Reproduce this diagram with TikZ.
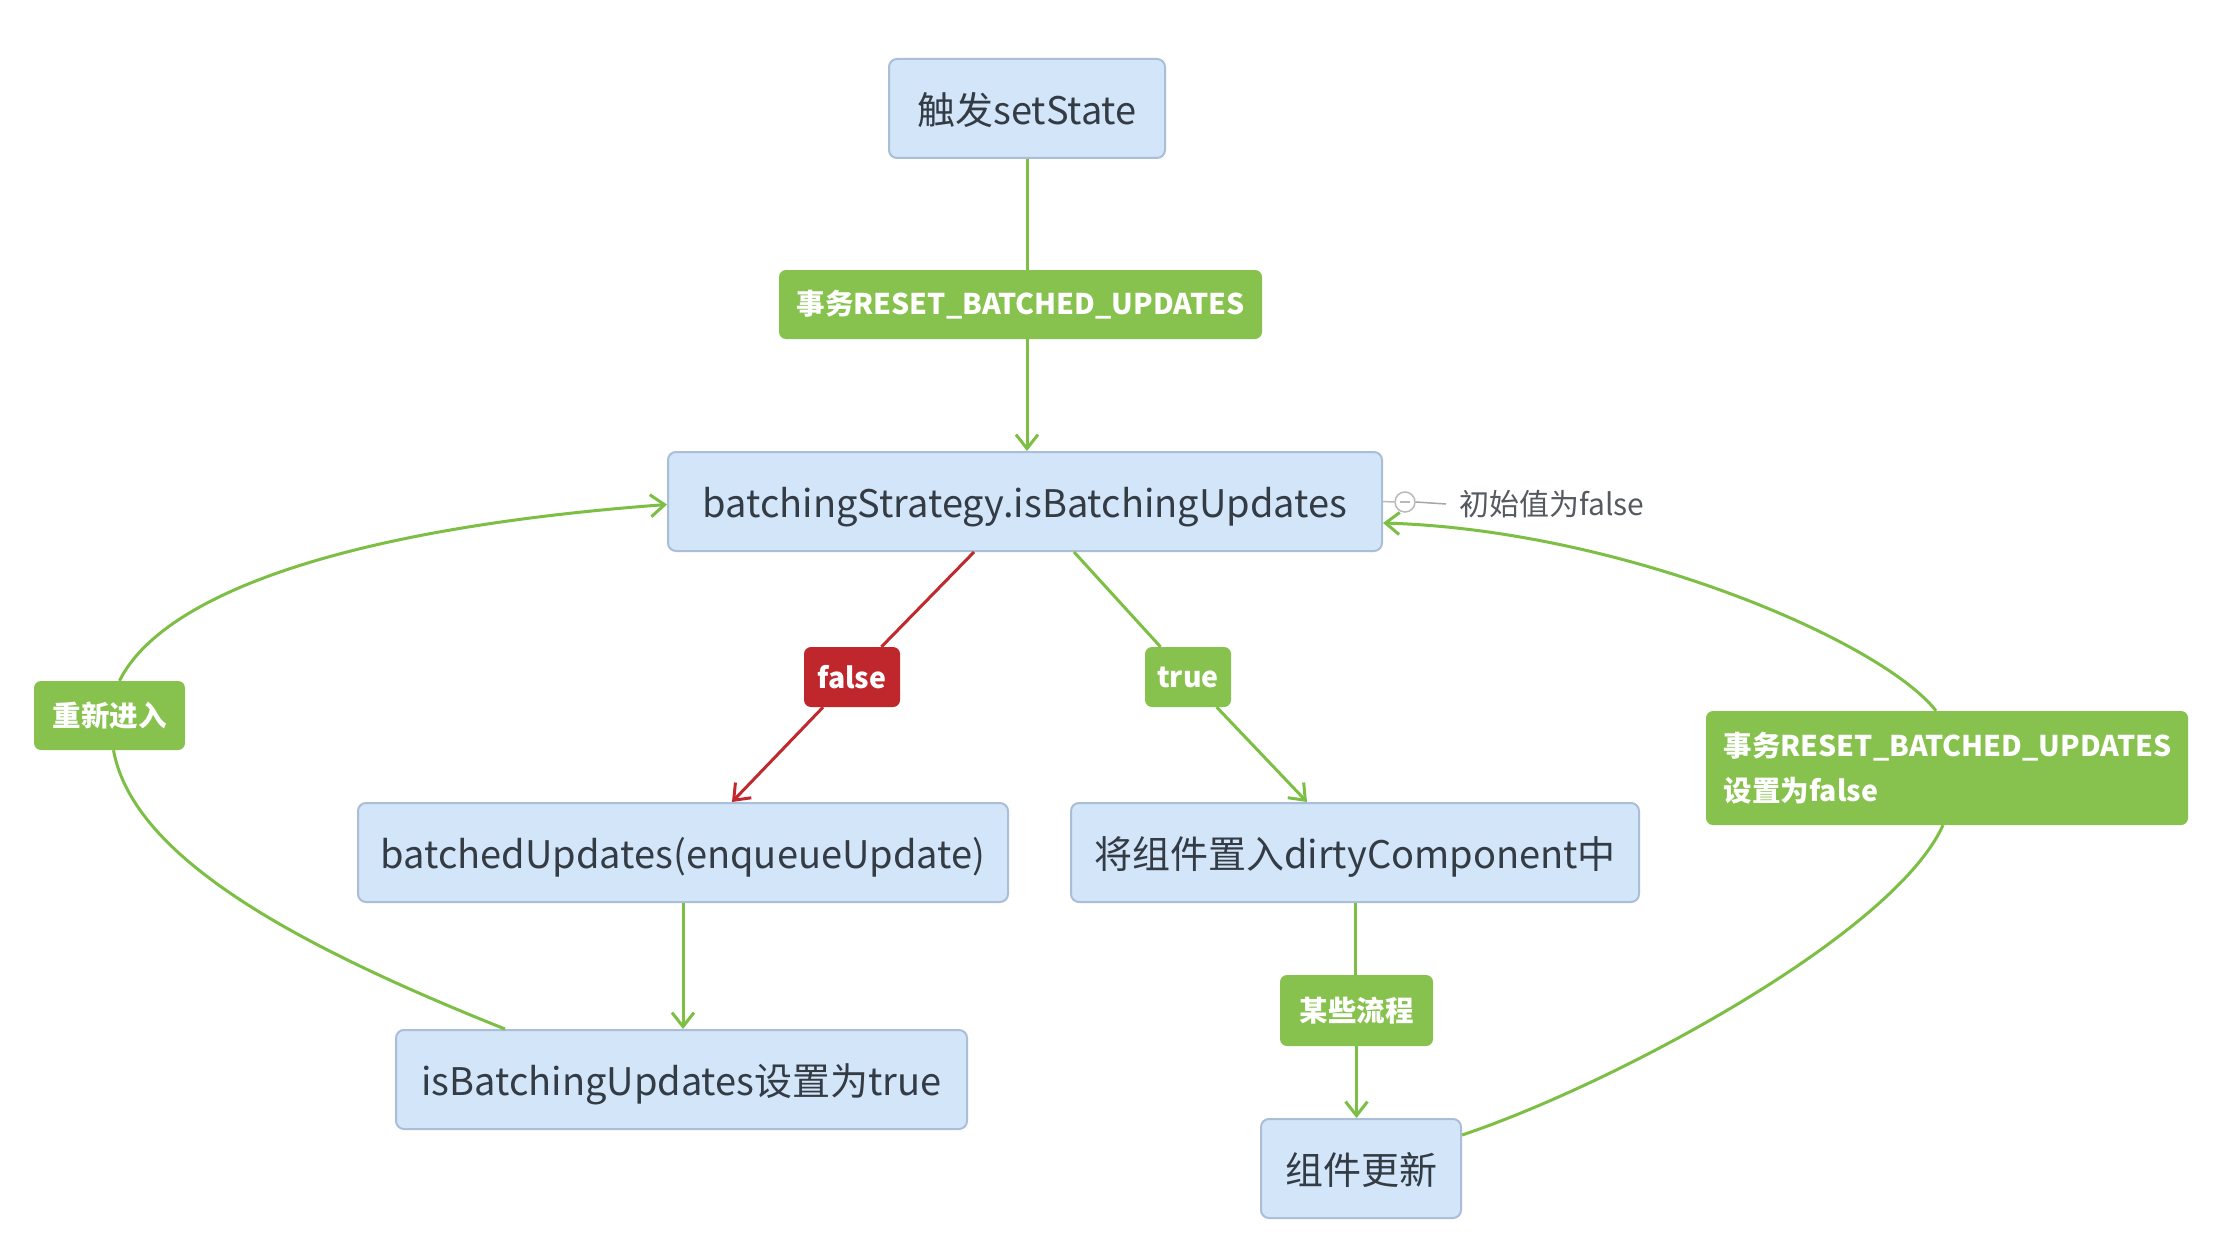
\documentclass[tikz,border=0pt]{standalone}
\usepackage{fontspec}
\setmainfont{Noto Sans CJK SC}
\usetikzlibrary{arrows.meta,calc}
\definecolor{boxfill}{HTML}{D3E5F8}
\definecolor{boxline}{HTML}{AABED8}
\definecolor{txt}{HTML}{333B45}
\definecolor{gfill}{HTML}{86C24D}
\definecolor{gline}{HTML}{7DBF45}
\definecolor{rfill}{HTML}{BF272D}
\definecolor{rline}{HTML}{C0292E}
\definecolor{anno}{HTML}{555A60}
\tikzset{
  bluebox/.style={draw=boxline, line width=2pt, fill=boxfill, rounded corners=8pt, text=txt,
    font=\fontsize{38}{44}\selectfont, inner sep=0pt, minimum height=99pt,
    text height=37pt, text depth=5pt},
  greenlab/.style={fill=gfill, rounded corners=7pt, text=white,
    font=\bfseries\fontsize{28.5}{45}\selectfont, inner sep=0pt},
  redlab/.style={fill=rfill, rounded corners=7pt, text=white,
    font=\bfseries\fontsize{28.5}{34}\selectfont, inner sep=0pt},
  gl/.style={draw=gline, line width=3pt},
  rl/.style={draw=rline, line width=3pt},
  arr/.style={-{Straight Barb[length=14pt,width=22pt]}}
}
\begin{document}
\begin{tikzpicture}[x=1pt,y=-1pt]
\useasboundingbox[fill=white] (0,0) rectangle (2216,1252);
% blue boxes
\node[bluebox, minimum width=276pt] (set) at (1027,108.5) {触发setState};
\node[bluebox, minimum width=714pt] (bsu) at (1025,501.5) {batchingStrategy.isBatchingUpdates};
\node[bluebox, minimum width=650pt] (bu) at (683,852.5) {batchedUpdates(enqueueUpdate)};
\node[bluebox, minimum width=568pt] (dc) at (1355,852.5) {将组件置入dirtyComponent中};
\node[bluebox, minimum width=571pt] (ibt) at (681.5,1079.5) {isBatchingUpdates设置为true};
\node[bluebox, minimum width=200pt] (upd) at (1361,1168.5) {组件更新};
% labels
\node[greenlab, minimum width=483pt, minimum height=69pt] (rst) at (1020.5,304.5) {事务RESET\_BATCHED\_UPDATES};
\node[redlab, minimum width=96pt, minimum height=60pt] (flab) at (852,677) {false};
\node[greenlab, minimum width=86pt, minimum height=60pt] (tlab) at (1188,677) {true};
\node[greenlab, minimum width=153pt, minimum height=71pt] (some) at (1356.5,1010.5) {某些流程};
\node[greenlab, minimum width=151pt, minimum height=69pt] (reenter) at (109.5,715.5) {重新进入};
\node[greenlab, minimum width=482pt, minimum height=114pt, text width=447pt, align=left] (rfalse) at (1947,768) {事务RESET\_BATCHED\_UPDATES\\设置为false};
% annotation
\node[circle, draw=gray!55, fill=white, line width=1.5pt, minimum size=20pt, inner sep=0pt] (ic) at (1405,502) {};
\node[anchor=west, inner sep=0pt, text=anno, font=\fontsize{30}{34}\selectfont] (init) at (1459,504) {初始值为false};
\draw[gray!55, line width=1.5pt] (bsu.east) -- (ic.west);
\draw[gray!55, line width=1.5pt] ([xshift=-5pt]ic.center) -- ([xshift=5pt]ic.center);
\draw[gray!70, line width=1.5pt] (ic.east) -- ([xshift=-13pt]init.west);
% connectors
\draw[gl] (set.south) -- (set.south |- rst.north);
\draw[gl,arr] (set.south |- rst.south) -- (set.south |- bsu.north);
\draw[rl] ([xshift=-51pt]bsu.south) -- (flab);
\draw[rl,arr] (flab) -- ([xshift=49pt]bu.north);
\draw[gl] ([xshift=49pt]bsu.south) -- (tlab);
\draw[gl,arr] (tlab) -- ([xshift=-48pt]dc.north);
\draw[gl,arr] (bu.south) -- (bu.south |- ibt.north);
\draw[gl] (dc.south) -- (dc.south |- some.north);
\draw[gl,arr] (some.south) -- (some.south |- upd.north);
% left loop
\draw[gl] ([xshift=-176.5pt]ibt.north) .. controls +(-200,-80) and +(20,110) .. ([xshift=4pt]reenter.south);
\draw[gl,arr] ([xshift=10pt]reenter.north) .. controls +(40,-81) and +(-338,25) .. ([yshift=-3pt]bsu.west);
% right loop
\draw[gl] ([yshift=33.5pt]upd.east) .. controls +(150,-50) and +(-50,110) .. ([xshift=-4pt]rfalse.south);
\draw[gl,arr] ([xshift=-11pt]rfalse.north) .. controls +(-56,-71) and +(238,7) .. ([yshift=-21.5pt]bsu.east);
\end{tikzpicture}
\end{document}
